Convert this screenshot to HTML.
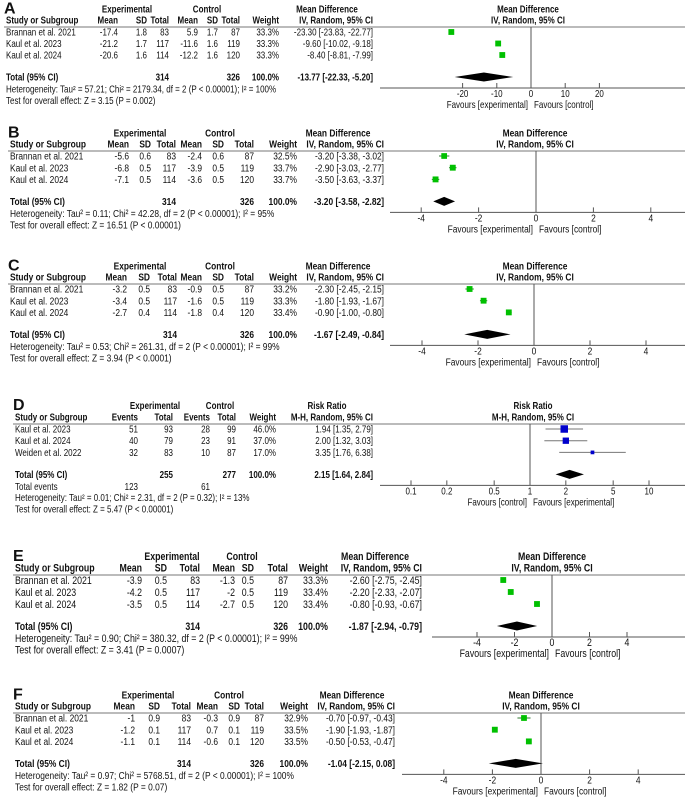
<!DOCTYPE html>
<html><head><meta charset="utf-8"><style>
html,body{margin:0;padding:0;background:#fff}
svg{display:block}
text{font-family:"Liberation Sans",Arial,sans-serif;fill:#111}
</style></head><body>
<svg id="chart" width="685" height="801" viewBox="0 0 685 801" xmlns="http://www.w3.org/2000/svg"></svg>
<script>
// ---------- DATA ----------
// Panel A
const aStudies=["Brannan et al. 2021","Kaul et al. 2023","Kaul et al. 2024"];
const aExpMean=[-17.4,-21.2,-20.6]; const aExpSD=[1.8,1.7,1.6]; const aExpN=[83,117,114];
const aCtlMean=[5.9,-11.6,-12.2]; const aCtlSD=[1.7,1.6,1.6]; const aCtlN=[87,119,120];
const aWeight=[33.3,33.3,33.3];
const aEst=[-23.30,-9.60,-8.40]; const aLo=[-23.83,-10.02,-8.81]; const aHi=[-22.77,-9.18,-7.99];
const aTotal=[-13.77,-22.33,-5.20];
const aTicks=[-20,-10,0,10,20];
const aHet="Heterogeneity: Tau² = 57.21; Chi² = 2179.34, df = 2 (P < 0.00001); I² = 100%";
const aTest="Test for overall effect: Z = 3.15 (P = 0.002)";
// Panel B
const bStudies=["Brannan et al. 2021","Kaul et al. 2023","Kaul et al. 2024"];
const bExpMean=[-5.6,-6.8,-7.1]; const bExpSD=[0.6,0.5,0.5]; const bExpN=[83,117,114];
const bCtlMean=[-2.4,-3.9,-3.6]; const bCtlSD=[0.6,0.5,0.5]; const bCtlN=[87,119,120];
const bWeight=[32.5,33.7,33.7];
const bEst=[-3.20,-2.90,-3.50]; const bLo=[-3.38,-3.03,-3.63]; const bHi=[-3.02,-2.77,-3.37];
const bTotal=[-3.20,-3.58,-2.82];
const bTicks=[-4,-2,0,2,4];
const bHet="Heterogeneity: Tau² = 0.11; Chi² = 42.28, df = 2 (P < 0.00001); I² = 95%";
const bTest="Test for overall effect: Z = 16.51 (P < 0.00001)";
// Panel C
const cStudies=["Brannan et al. 2021","Kaul et al. 2023","Kaul et al. 2024"];
const cExpMean=[-3.2,-3.4,-2.7]; const cExpSD=[0.5,0.5,0.4]; const cExpN=[83,117,114];
const cCtlMean=[-0.9,-1.6,-1.8]; const cCtlSD=[0.5,0.5,0.4]; const cCtlN=[87,119,120];
const cWeight=[33.2,33.3,33.4];
const cEst=[-2.30,-1.80,-0.90]; const cLo=[-2.45,-1.93,-1.00]; const cHi=[-2.15,-1.67,-0.80];
const cTotal=[-1.67,-2.49,-0.84];
const cTicks=[-4,-2,0,2,4];
const cHet="Heterogeneity: Tau² = 0.53; Chi² = 261.31, df = 2 (P < 0.00001); I² = 99%";
const cTest="Test for overall effect: Z = 3.94 (P < 0.0001)";
// Panel D (risk ratio)
const dStudies=["Kaul et al. 2023","Kaul et al. 2024","Weiden et al. 2022"];
const dExpEv=[51,40,32]; const dExpN=[93,79,83];
const dCtlEv=[28,23,10]; const dCtlN=[99,91,87];
const dWeight=[46.0,37.0,17.0];
const dEst=[1.94,2.00,3.35]; const dLo=[1.35,1.32,1.76]; const dHi=[2.79,3.03,6.38];
const dTotal=[2.15,1.64,2.84];
const dTicks=[0.1,0.2,0.5,1,2,5,10];
const dHet="Heterogeneity: Tau² = 0.01; Chi² = 2.31, df = 2 (P = 0.32); I² = 13%";
const dTest="Test for overall effect: Z = 5.47 (P < 0.00001)";
// Panel E
const eStudies=["Brannan et al. 2021","Kaul et al. 2023","Kaul et al. 2024"];
const eExpMean=[-3.9,-4.2,-3.5]; const eExpSD=[0.5,0.5,0.5]; const eExpN=[83,117,114];
const eCtlMean=[-1.3,-2,-2.7]; const eCtlSD=[0.5,0.5,0.5]; const eCtlN=[87,119,120];
const eWeight=[33.3,33.4,33.4];
const eEst=[-2.60,-2.20,-0.80]; const eLo=[-2.75,-2.33,-0.93]; const eHi=[-2.45,-2.07,-0.67];
const eTotal=[-1.87,-2.94,-0.79];
const eTicks=[-4,-2,0,2,4];
const eHet="Heterogeneity: Tau² = 0.90; Chi² = 380.32, df = 2 (P < 0.00001); I² = 99%";
const eTest="Test for overall effect: Z = 3.41 (P = 0.0007)";
// Panel F
const fStudies=["Brannan et al. 2021","Kaul et al. 2023","Kaul et al. 2024"];
const fExpMean=[-1,-1.2,-1.1]; const fExpSD=[0.9,0.1,0.1]; const fExpN=[83,117,114];
const fCtlMean=[-0.3,0.7,-0.6]; const fCtlSD=[0.9,0.1,0.1]; const fCtlN=[87,119,120];
const fWeight=[32.9,33.5,33.5];
const fEst=[-0.70,-1.90,-0.50]; const fLo=[-0.97,-1.93,-0.53]; const fHi=[-0.43,-1.87,-0.47];
const fTotal=[-1.04,-2.15,0.08];
const fTicks=[-4,-2,0,2,4];
const fHet="Heterogeneity: Tau² = 0.97; Chi² = 5768.51, df = 2 (P < 0.00001); I² = 100%";
const fTest="Test for overall effect: Z = 1.82 (P = 0.07)";

// ---------- DRAW ----------
const svg=document.getElementById('chart');
const NS="http://www.w3.org/2000/svg";
function mk(tag,attrs){const e=document.createElementNS(NS,tag);for(const k in attrs)e.setAttribute(k,attrs[k]);svg.appendChild(e);return e;}
function txt(x,y,s,anchor,bold,fs,name){
  const e=mk('text',{transform:`translate(${x},${y}) scale(0.8,1)`,'text-anchor':anchor||'start','font-size':fs,'font-weight':bold?'bold':'normal'});
  e.textContent=s;
  
  
  return e;
}
function line(x1,y1,x2,y2,col,w,name){
  const e=mk('line',{x1,y1,x2,y2,stroke:col,'stroke-width':w});
  
  
  return e;
}
function ci(v,lo,hi){return v.toFixed(2)+" ["+lo.toFixed(2)+", "+hi.toFixed(2)+"]";}

function panel(P,L){
  const fs=L.fs, dy=L.dy, r1=L.row1;
  const h1=r1-23*dy/11.5, h2=r1-12*dy/11.5, hl=r1-5;
  const b=3.5*fs/10;
  const lt=mk('text',{x:L.studyX-2,y:h1+b+1,'font-family':'"Liberation Serif",serif','font-size':16,'font-weight':'bold'});
  lt.textContent=L.letter;
  
  
  const C=L.cols;
  txt(L.hExp,h1+b,"Experimental","middle",true,fs,'experimental-header');
  txt(L.hCtl,h1+b,"Control","middle",true,fs,'control-header');
  txt(L.hMD,h1+b,P.rr?"Risk Ratio":"Mean Difference","middle",true,fs,'effect-header');
  txt(L.hR,h1+b,P.rr?"Risk Ratio":"Mean Difference","middle",true,fs,'plot-header');
  txt(L.studyX,h2+b,"Study or Subgroup","start",true,fs,'study-header');
  const hd=P.rr?["Events","Total","Events","Total","Weight","M-H, Random, 95% CI"]:["Mean","SD","Total","Mean","SD","Total","Weight","IV, Random, 95% CI"];
  hd.forEach((h,i)=>txt(C[i],h2+b,h,"end",true,fs,'column-header'));
  txt(L.hR,h2+b,P.rr?"M-H, Random, 95% CI":"IV, Random, 95% CI","middle",true,fs,'plot-subheader');
  line(L.studyX-2,hl,685,hl,'#777',1,'header-rule');
  const X=v=>P.rr?L.zero+Math.log10(v)*L.ppu:L.zero+v*L.ppu;
  const tot=r1+2*dy+22;
  const ax=tot+11;
  line(L.zero,hl,L.zero,ax,'#555',1,'null-line');
  line(L.axL,ax,685,ax,'#555',1,'x-axis');
  P.ticks.forEach(t=>{line(X(t),ax-5,X(t),ax,'#555',1,'x-tick');txt(X(t),ax+9,String(t),"middle",false,fs,'x-tick-label');});
  txt(L.zero-3,ax+20,P.rr?"Favours [control]":"Favours [experimental]","end",false,fs,'favours-left');
  txt(L.zero+3,ax+20,P.rr?"Favours [experimental]":"Favours [control]","start",false,fs,'favours-right');
  P.studies.forEach((s,i)=>{
    const y=r1+i*dy, by=y+b;
    txt(L.studyX,by,s,"start",false,fs,'study-name');
    const vals=P.rr?[P.ee[i],P.en[i],P.ce[i],P.cn[i]]:[P.em[i],P.es[i],P.en[i],P.cm[i],P.cs[i],P.cn[i]];
    vals.forEach((v,j)=>txt(C[j],by,String(v),"end",false,fs,'cell-value'));
    const k=vals.length;
    txt(C[k],by,P.w[i].toFixed(1)+"%","end",false,fs,'weight-value');
    txt(C[k+1],by,ci(P.est[i],P.lo[i],P.hi[i]),"end",false,fs,'effect-ci');
    line(X(P.lo[i]),y,X(P.hi[i]),y,P.rr?'#777':'#2f7a2f',1,'ci-whisker');
    const sz=P.w[i]*0.13+1.5;
    const m=mk('rect',{x:X(P.est[i])-sz/2,y:y-sz/2,width:sz,height:sz,fill:P.rr?'#0000cc':'#00c000'});
    
    
  });
  const tb=tot+b;
  txt(L.studyX,tb,"Total (95% CI)","start",true,fs,'total-label');
  const nE=P.en.reduce((a,c)=>a+c,0), nC=P.cn.reduce((a,c)=>a+c,0);
  const k=P.rr?4:6;
  txt(C[P.rr?1:2],tb,String(nE),"end",true,fs,'total-exp');
  txt(C[P.rr?3:5],tb,String(nC),"end",true,fs,'total-ctl');
  txt(C[k],tb,"100.0%","end",true,fs,'total-weight');
  txt(C[k+1],tb,ci(P.total[0],P.total[1],P.total[2]),"end",true,fs,'total-ci');
  const d=mk('polygon',{points:`${X(P.total[1])},${tot} ${X(P.total[0])},${tot-4.5} ${X(P.total[2])},${tot} ${X(P.total[0])},${tot+4.5}`,fill:'#000'});
  
  
  let hy=tot+12;
  if(P.rr){
    txt(L.studyX,hy+b,"Total events","start",false,fs,'total-events-label');
    txt(C[0],hy+b,String(P.ee.reduce((a,c)=>a+c,0)),"end",false,fs,'total-events-exp');
    txt(C[2],hy+b,String(P.ce.reduce((a,c)=>a+c,0)),"end",false,fs,'total-events-ctl');
    hy+=11;
  }
  txt(L.studyX,hy+b,P.het,"start",false,fs,'heterogeneity');
  txt(L.studyX,hy+11.5+b,P.test,"start",false,fs,'overall-effect-test');
}

panel({studies:aStudies,em:aExpMean,es:aExpSD,en:aExpN,cm:aCtlMean,cs:aCtlSD,cn:aCtlN,w:aWeight,est:aEst,lo:aLo,hi:aHi,total:aTotal,ticks:aTicks,het:aHet,test:aTest},
 {letter:"A",row1:32,dy:11.5,fs:10,studyX:6,cols:[118,147,169,198,218,240,279,373],hExp:127,hCtl:207,hMD:327,hR:528,axL:380,zero:531,ppu:3.42});
panel({studies:bStudies,em:bExpMean,es:bExpSD,en:bExpN,cm:bCtlMean,cs:bCtlSD,cn:bCtlN,w:bWeight,est:bEst,lo:bLo,hi:bHi,total:bTotal,ticks:bTicks,het:bHet,test:bTest},
 {letter:"B",row1:156,dy:11.7,fs:10.5,studyX:10,cols:[129,151,176,202,224,254,297,384],hExp:140,hCtl:220,hMD:338,hR:535,axL:390,zero:536,ppu:28.7});
panel({studies:cStudies,em:cExpMean,es:cExpSD,en:cExpN,cm:cCtlMean,cs:cCtlSD,cn:cCtlN,w:cWeight,est:cEst,lo:cLo,hi:cHi,total:cTotal,ticks:cTicks,het:cHet,test:cTest},
 {letter:"C",row1:289,dy:11.7,fs:10.5,studyX:10,cols:[127,150,177,202,224,254,297,384],hExp:140,hCtl:220,hMD:338,hR:535,axL:390,zero:534,ppu:28});
panel({rr:true,studies:dStudies,ee:dExpEv,en:dExpN,ce:dCtlEv,cn:dCtlN,w:dWeight,est:dEst,lo:dLo,hi:dHi,total:dTotal,ticks:dTicks,het:dHet,test:dTest},
 {letter:"D",row1:429,dy:11.7,fs:10,studyX:15,cols:[138,173,210,236,276,373],hExp:155,hCtl:220,hMD:327,hR:533,axL:380,zero:530,ppu:119});
panel({studies:eStudies,em:eExpMean,es:eExpSD,en:eExpN,cm:eCtlMean,cs:eCtlSD,cn:eCtlN,w:eWeight,est:eEst,lo:eLo,hi:eHi,total:eTotal,ticks:eTicks,het:eHet,test:eTest},
 {letter:"E",row1:580,dy:12,fs:11,studyX:15,cols:[142,167,200,235,254,288,328,422],hExp:172,hCtl:242,hMD:375,hR:552,axL:432,zero:552,ppu:18.75});
panel({studies:fStudies,em:fExpMean,es:fExpSD,en:fExpN,cm:fCtlMean,cs:fCtlSD,cn:fCtlN,w:fWeight,est:fEst,lo:fLo,hi:fHi,total:fTotal,ticks:fTicks,het:fHet,test:fTest},
 {letter:"F",row1:718,dy:11.7,fs:10.5,studyX:15,cols:[135,160,191,218,240,264,308,395],hExp:148,hCtl:229,hMD:352,hR:541,axL:402,zero:541,ppu:24.3});
</script>
</body></html>
